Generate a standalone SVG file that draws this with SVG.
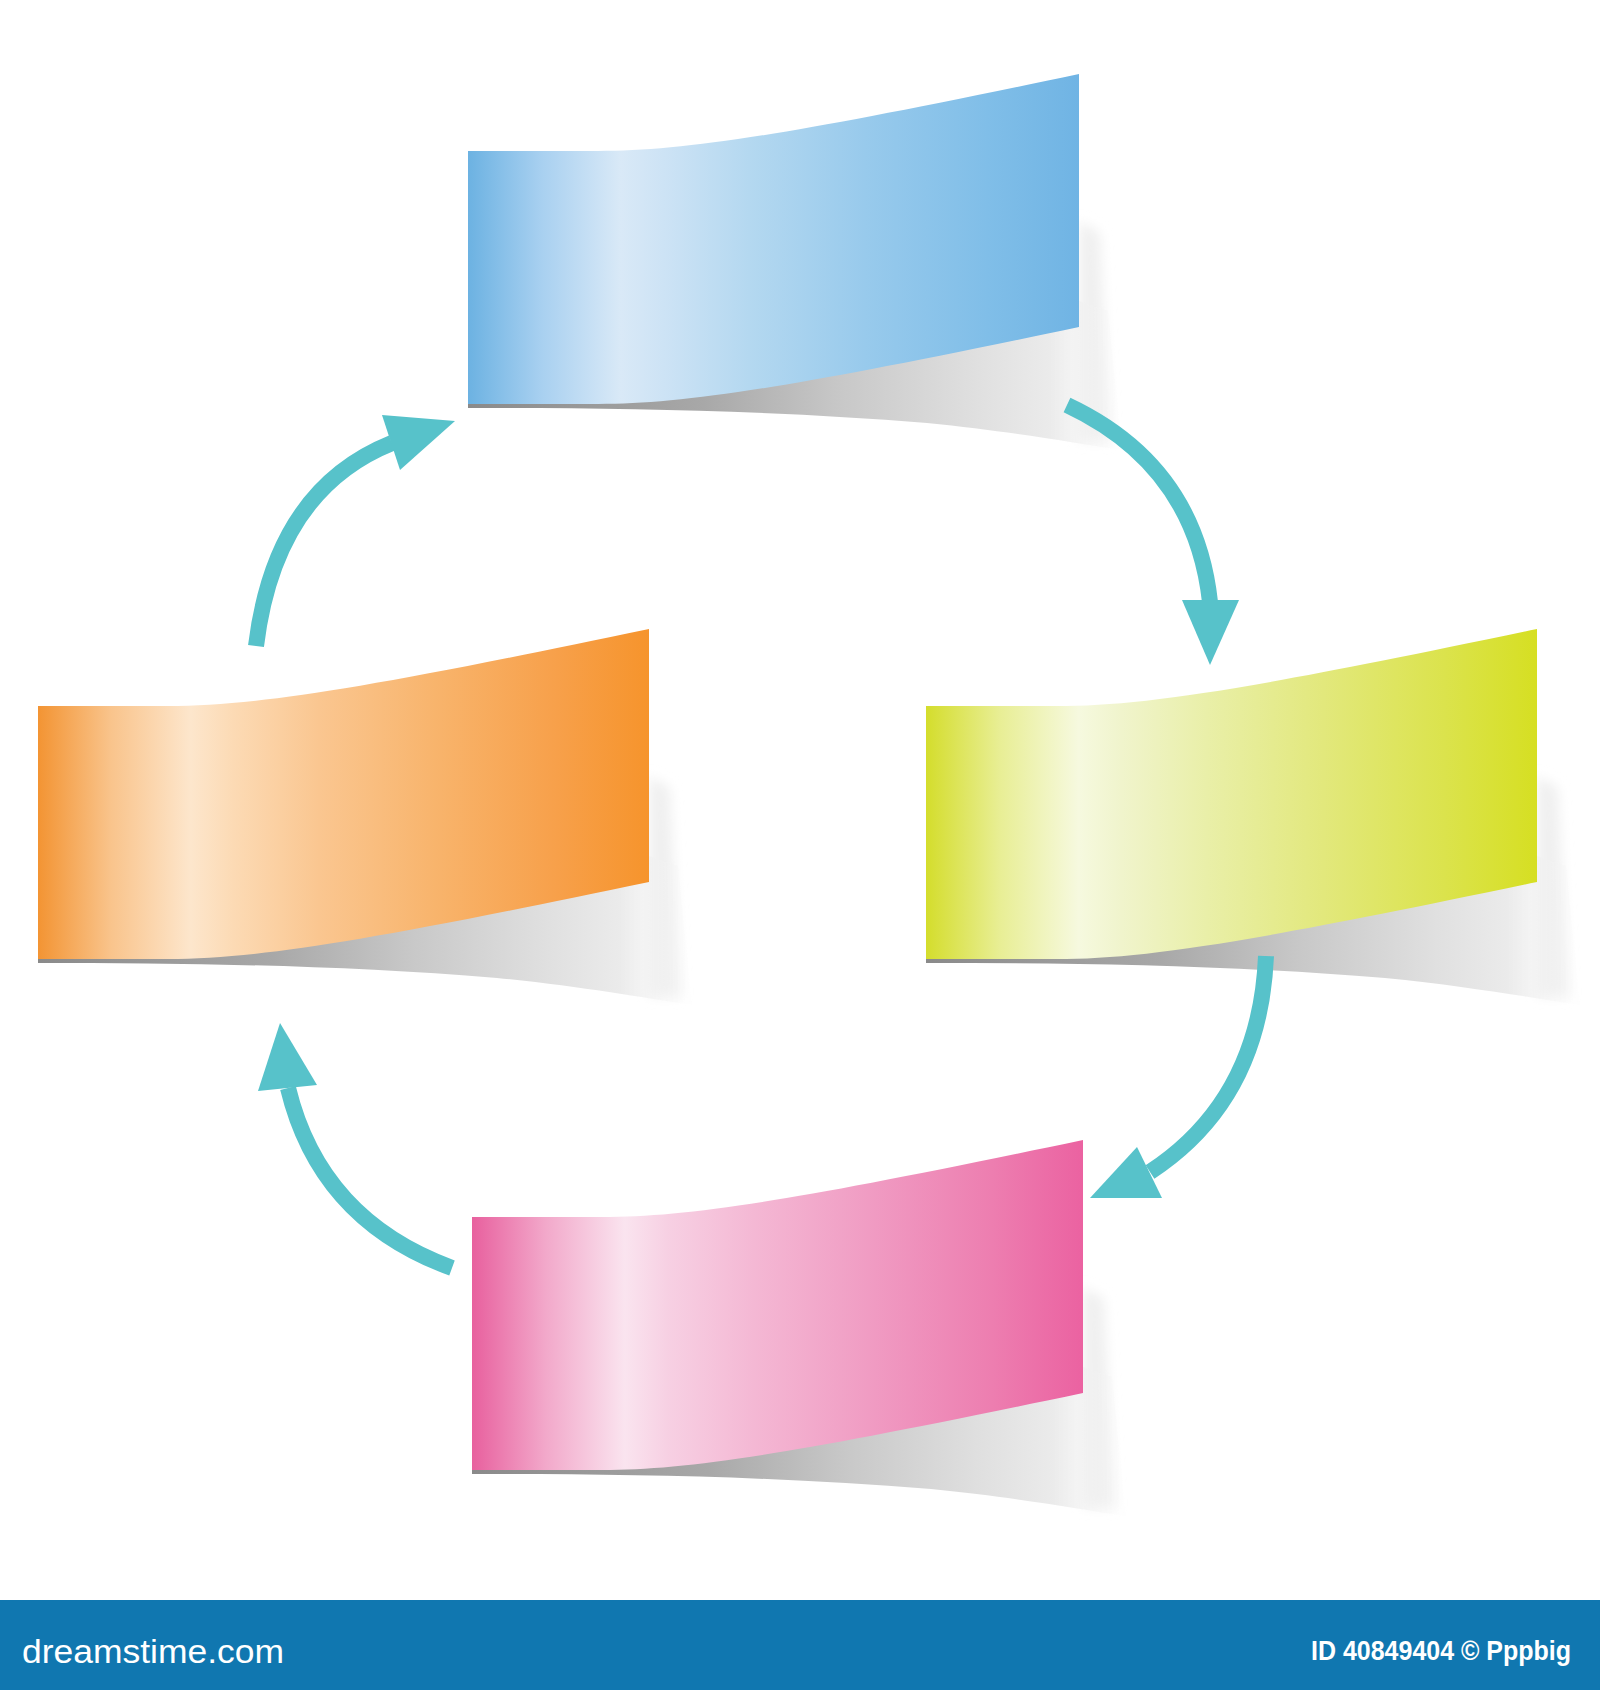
<svg xmlns="http://www.w3.org/2000/svg" width="1600" height="1690" viewBox="0 0 1600 1690">
<defs>
  <linearGradient id="gBlue" gradientUnits="userSpaceOnUse" x1="0" y1="0" x2="611" y2="0">
    <stop offset="0" stop-color="#6cb2e2"/><stop offset="0.12" stop-color="#a8d0f0"/><stop offset="0.25" stop-color="#d9e9f7"/><stop offset="0.32" stop-color="#cde3f5"/><stop offset="0.46" stop-color="#b4d8f0"/><stop offset="0.65" stop-color="#98caec"/><stop offset="0.85" stop-color="#80bee8"/><stop offset="1" stop-color="#70b4e4"/>
  </linearGradient>
  <linearGradient id="gOrange" gradientUnits="userSpaceOnUse" x1="0" y1="0" x2="611" y2="0">
    <stop offset="0" stop-color="#f39433"/><stop offset="0.12" stop-color="#f9c48c"/><stop offset="0.25" stop-color="#fde6cc"/><stop offset="0.32" stop-color="#fcdab4"/><stop offset="0.46" stop-color="#fac690"/><stop offset="0.65" stop-color="#f8b46c"/><stop offset="0.85" stop-color="#f7a04a"/><stop offset="1" stop-color="#f6942c"/>
  </linearGradient>
  <linearGradient id="gGreen" gradientUnits="userSpaceOnUse" x1="0" y1="0" x2="611" y2="0">
    <stop offset="0" stop-color="#d4dd2c"/><stop offset="0.12" stop-color="#e8ee94"/><stop offset="0.25" stop-color="#f6f9df"/><stop offset="0.32" stop-color="#f0f4cc"/><stop offset="0.46" stop-color="#e9efa8"/><stop offset="0.65" stop-color="#e2e87c"/><stop offset="0.85" stop-color="#dbe34c"/><stop offset="1" stop-color="#d6df22"/>
  </linearGradient>
  <linearGradient id="gPink" gradientUnits="userSpaceOnUse" x1="0" y1="0" x2="611" y2="0">
    <stop offset="0" stop-color="#e8609e"/><stop offset="0.12" stop-color="#f2a8ca"/><stop offset="0.25" stop-color="#fae4ef"/><stop offset="0.32" stop-color="#f7d0e3"/><stop offset="0.46" stop-color="#f4b8d4"/><stop offset="0.65" stop-color="#f09cc3"/><stop offset="0.85" stop-color="#ed7eb0"/><stop offset="1" stop-color="#eb62a1"/>
  </linearGradient>
  <linearGradient id="gShadow" gradientUnits="userSpaceOnUse" x1="0" y1="0" x2="655" y2="0">
    <stop offset="0" stop-color="#8a8a8a"/><stop offset="0.36" stop-color="#a8a8a8"/><stop offset="0.57" stop-color="#c8c8c8"/><stop offset="0.78" stop-color="#e0e0e0"/><stop offset="0.92" stop-color="#eeeeee"/><stop offset="1" stop-color="#f8f8f8"/>
  </linearGradient>
  <linearGradient id="gFade" gradientUnits="userSpaceOnUse" x1="0" y1="0" x2="660" y2="0">
    <stop offset="0.88" stop-color="#ffffff"/><stop offset="1" stop-color="#000000"/>
  </linearGradient>
  <mask id="mShadow" maskUnits="userSpaceOnUse" x="-10" y="-100" width="700" height="420">
    <rect x="-10" y="-100" width="700" height="420" fill="url(#gFade)"/>
  </mask>
  <filter id="soft" x="-50%" y="-50%" width="200%" height="200%">
    <feGaussianBlur stdDeviation="6"/>
  </filter>
  <path id="shadowShape" d="M 0 252 L 0 257 C 150 257 300 259 459 272 C 540 280 600 291 654 299 L 640 160 L 611 150 Z"/>
  <path id="sideShade" d="M 611 70 L 632 82 L 642 290 L 611 290 Z"/>
  <path id="noteShape" d="M 0 0 L 130 0 C 220 0 330 -18 611 -77 L 611 176 C 330 235 220 253 130 253 L 0 253 Z"/>
</defs>
<style>
  .shadow { fill: url(#gShadow); }
  .side { fill: #f0f0f0; }
  .arrow { fill: none; stroke: #57c2ca; stroke-width: 16; stroke-linecap: butt; }
  .head { fill: #57c2ca; }
  .foot { fill: #ffffff; font-family: "Liberation Sans", Arial, sans-serif; }
  .bold { font-weight: bold; }
</style>
<rect width="1600" height="1690" fill="#ffffff"/>

<g id="node-blue" transform="translate(468,151)">
  <use href="#sideShade" class="side" filter="url(#soft)"/>
  <use href="#shadowShape" class="shadow" mask="url(#mShadow)"/>
  <use href="#noteShape" fill="url(#gBlue)"/>
</g>
<g id="node-orange" transform="translate(38,706)">
  <use href="#sideShade" class="side" filter="url(#soft)"/>
  <use href="#shadowShape" class="shadow" mask="url(#mShadow)"/>
  <use href="#noteShape" fill="url(#gOrange)"/>
</g>
<g id="node-green" transform="translate(926,706)">
  <use href="#sideShade" class="side" filter="url(#soft)"/>
  <use href="#shadowShape" class="shadow" mask="url(#mShadow)"/>
  <use href="#noteShape" fill="url(#gGreen)"/>
</g>
<g id="node-pink" transform="translate(472,1217)">
  <use href="#sideShade" class="side" filter="url(#soft)"/>
  <use href="#shadowShape" class="shadow" mask="url(#mShadow)"/>
  <use href="#noteShape" fill="url(#gPink)"/>
</g>

<g id="connectors">
  <path class="arrow" d="M 256 646 Q 275 490 392 443"/>
  <polygon class="head" points="382,415 455,421 400,470"/>
  <path class="arrow" d="M 1067 405 Q 1195 465 1210 602"/>
  <polygon class="head" points="1182,600 1239,600 1210,665"/>
  <path class="arrow" d="M 1266 956 Q 1260 1100 1150 1172"/>
  <polygon class="head" points="1137,1147 1162,1198 1090,1198"/>
  <path class="arrow" d="M 452 1268 Q 320 1220 288 1088"/>
  <polygon class="head" points="280,1023 317,1085 258,1091"/>
</g>

<g id="footer">
  <rect x="0" y="1600" width="1600" height="90" fill="#1077b0"/>
  <text class="foot" x="22" y="1663" font-size="34" textLength="262" lengthAdjust="spacingAndGlyphs">dreamstime.com</text>
  <text class="foot bold" x="1311" y="1660" font-size="28" textLength="260" lengthAdjust="spacingAndGlyphs">ID 40849404 © Pppbig</text>
</g>
</svg>
